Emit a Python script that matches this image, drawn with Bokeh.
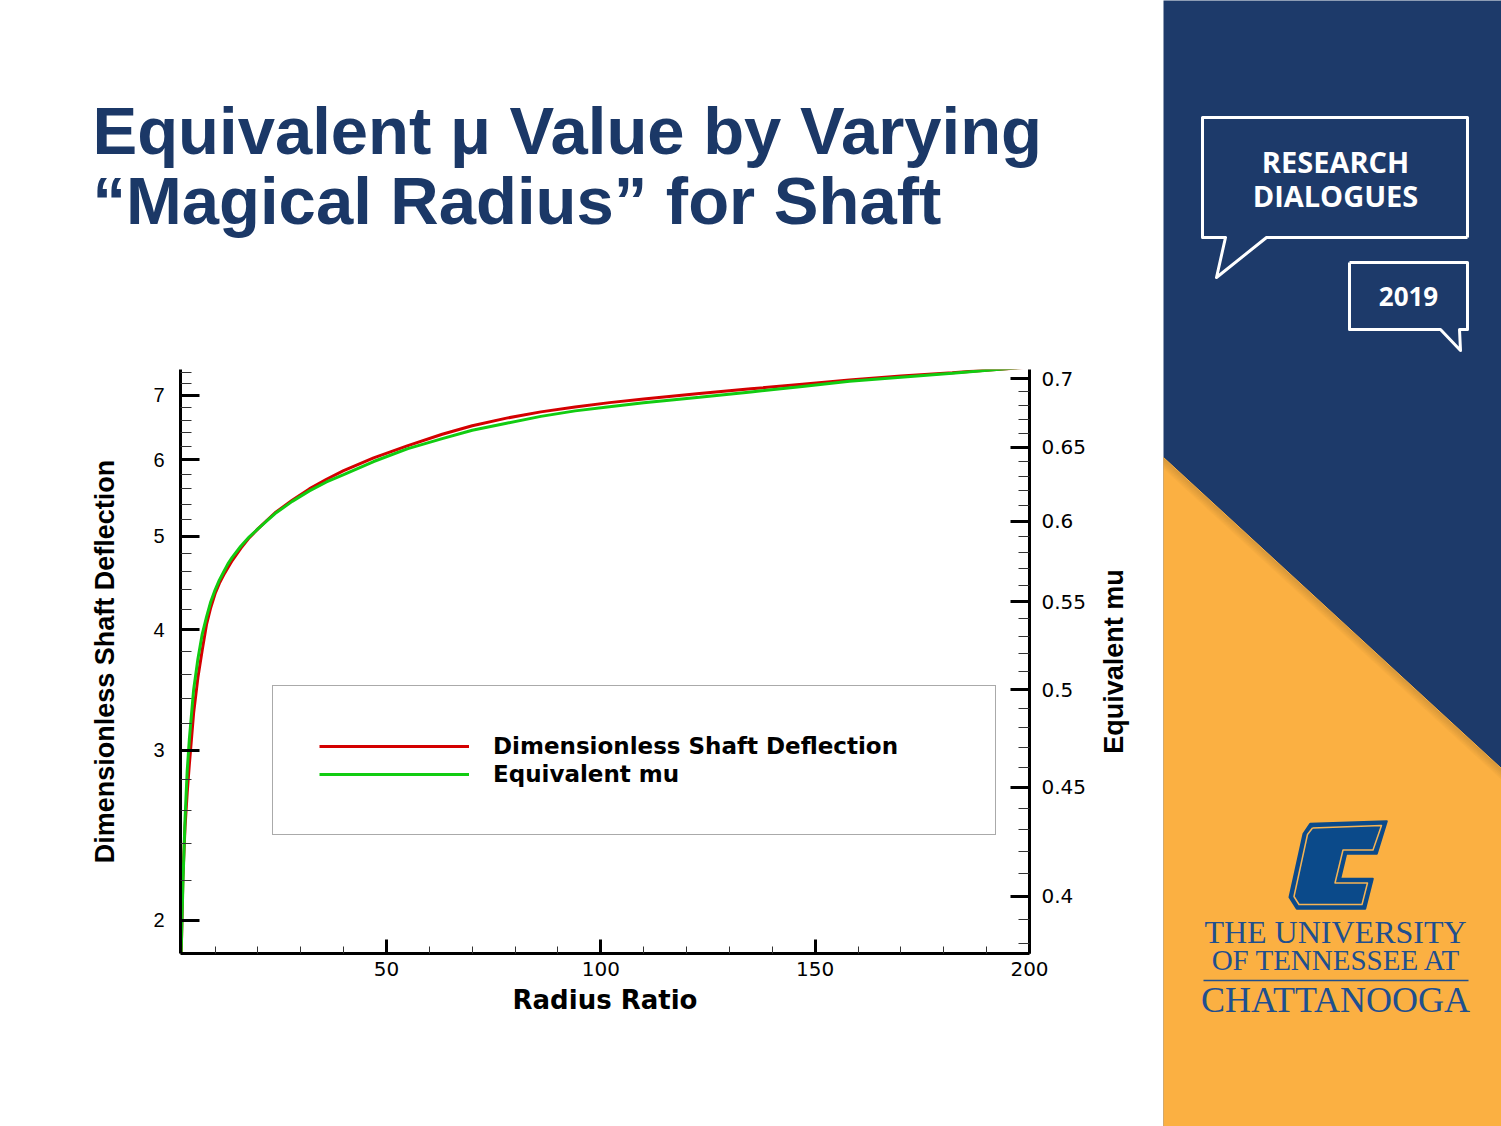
from math import pi
from bokeh.plotting import figure
from bokeh.models import (Range1d, LogScale, LogAxis, FixedTicker, Legend, LegendItem,
                          ColumnDataSource, BasicTickFormatter)
from bokeh.layouts import row, column
from bokeh.embed import file_html
from bokeh.resources import INLINE
from bokeh.core.properties import value

# ---------------- data ----------------
radius_ratio = [2, 2.5, 3, 3.5, 4, 5, 6, 7, 8, 9, 10, 11, 12, 13, 14, 16, 18, 20, 22, 24,
                28, 32, 36, 40, 47, 55, 63, 70, 78, 86, 94, 102, 110, 123, 135, 147, 158,
                170, 182, 193, 200]
deflection = [1.75, 2.22, 2.50, 2.71, 2.90, 3.28, 3.57, 3.81, 4.05, 4.22, 4.36, 4.47, 4.56,
              4.64, 4.72, 4.86, 4.985, 5.09, 5.19, 5.29, 5.45, 5.60, 5.73, 5.85, 6.03, 6.21,
              6.38, 6.51, 6.63, 6.73, 6.81, 6.88, 6.94, 7.03, 7.11, 7.19, 7.26, 7.33, 7.39,
              7.45, 7.49]
equiv_mu = [0.370, 0.405, 0.435, 0.458, 0.474, 0.500, 0.517, 0.531, 0.541, 0.550, 0.557,
            0.563, 0.568, 0.573, 0.577, 0.584, 0.590, 0.595, 0.600, 0.605, 0.613, 0.620,
            0.626, 0.631, 0.640, 0.649, 0.656, 0.662, 0.667, 0.672, 0.676, 0.679, 0.682,
            0.686, 0.690, 0.694, 0.698, 0.701, 0.704, 0.707, 0.709]

x_ticks = [50, 100, 150, 200]
x_minor = [10, 20, 30, 40, 60, 70, 80, 90, 110, 120, 130, 140, 160, 170, 180, 190]
left_ticks = [2, 3, 4, 5, 6, 7]
left_minor = [2.2, 2.4, 2.6, 2.8, 3.2, 3.4, 3.6, 3.8, 4.2, 4.4, 4.6, 4.8, 5.2, 5.4, 5.6, 5.8,
              6.2, 6.4, 6.6, 6.8, 7.2, 7.4]
right_ticks = [0.4, 0.45, 0.5, 0.55, 0.6, 0.65, 0.7]
right_tick_labels = ["0.4", "0.45", "0.5", "0.55", "0.6", "0.65", "0.7"]
right_minor = [0.38, 0.39, 0.41, 0.42, 0.43, 0.44, 0.46, 0.47, 0.48, 0.49, 0.51, 0.52, 0.53,
               0.54, 0.56, 0.57, 0.58, 0.59, 0.61, 0.62, 0.63, 0.64, 0.66, 0.67, 0.68, 0.69]

series_names = ["Dimensionless Shaft Deflection", "Equivalent mu"]
title_lines = ["Equivalent \u03bc Value by Varying", "\u201cMagical Radius\u201d for Shaft"]

NAVY = "#1d3a6a"
ORANGE = "#fbb042"
TITLE = "#1b3867"
RED = "#d40000"
GREEN = "#11cc11"


def no_align(fig):
    if "frame_align" in fig.properties():
        fig.frame_align = False


def bare(fig, bg):
    fig.xgrid.visible = False
    fig.ygrid.visible = False
    fig.outline_line_color = None
    fig.background_fill_color = bg
    fig.border_fill_color = bg


# ---------------- title strip ----------------
pt = figure(width=1163, height=340, x_range=Range1d(0, 1163), y_range=Range1d(340, 0),
            output_backend="svg", toolbar_location=None, min_border=0, title=None,
            x_axis_location=None, y_axis_location=None)
bare(pt, "white")
no_align(pt)
pt.text(x=[92, 92], y=[130, 200], text=title_lines, text_baseline="alphabetic",
        text_font=value("Liberation Sans"), text_font_style="bold",
        text_font_size=value("67px"), text_color=TITLE)

# ---------------- main chart figure ----------------
src = ColumnDataSource(dict(x=radius_ratio, d=deflection, m=equiv_mu))

p = figure(width=1095, height=786, x_range=Range1d(1.94, 200), y_range=Range1d(1.848, 7.446),
           y_axis_type="log", output_backend="svg", toolbar_location=None, title=None,
           min_border_left=180, min_border_right=66, min_border_top=29, min_border_bottom=173)
bare(p, "white")
no_align(p)

p.extra_y_ranges = {"mu": Range1d(0.3761, 0.7069)}
p.extra_y_scales = {"mu": LogScale()}


def style_axis(ax, tick_in, minor_in):
    ax.axis_line_width = 3
    ax.axis_line_color = "black"
    ax.major_tick_in = tick_in
    ax.major_tick_out = 0
    ax.major_tick_line_width = 3
    ax.major_tick_line_color = "black"
    ax.minor_tick_in = minor_in
    ax.minor_tick_out = 0
    ax.minor_tick_line_width = 1
    ax.minor_tick_line_color = "#333333"
    ax.major_label_text_color = "black"
    ax.major_label_text_font_style = "normal"
    ax.axis_label_text_color = "black"
    ax.axis_label_text_font_style = "bold"


xa = p.xaxis[0]
xa.ticker = FixedTicker(ticks=x_ticks, minor_ticks=x_minor)
style_axis(xa, 14, 7)
xa.major_label_text_font = "DejaVu Sans"
xa.major_label_text_font_size = "20px"
xa.major_label_standoff = 8
xa.axis_label = "Radius Ratio"
xa.axis_label_text_font = "DejaVu Sans"
xa.axis_label_text_font_size = "26px"
xa.axis_label_standoff = 6

ya = p.yaxis[0]
ya.ticker = FixedTicker(ticks=left_ticks, minor_ticks=left_minor)
ya.formatter = BasicTickFormatter()
style_axis(ya, 19, 11)
ya.major_label_text_font = "Liberation Sans"
ya.major_label_text_font_size = "20px"
ya.major_label_standoff = 16
ya.axis_label = series_names[0]
ya.axis_label_text_font = "Liberation Sans"
ya.axis_label_text_font_size = "27px"
ya.axis_label_standoff = 30

ra = LogAxis(y_range_name="mu", ticker=FixedTicker(ticks=right_ticks, minor_ticks=right_minor),
             formatter=BasicTickFormatter(),
             major_label_overrides=dict(zip(right_ticks, right_tick_labels)))
style_axis(ra, 19, 11)
ra.major_label_text_font = "DejaVu Sans"
ra.major_label_text_font_size = "20px"
ra.major_label_standoff = 12
p.add_layout(ra, "right")

r1 = p.line("x", "d", source=src, line_color=RED, line_width=3)
r2 = p.line("x", "m", source=src, y_range_name="mu", line_color=GREEN, line_width=3)

legend = Legend(items=[LegendItem(label=series_names[0], renderers=[r1]),
                       LegendItem(label=series_names[1], renderers=[r2])],
                location=(92, 118), padding=46, spacing=0, margin=0,
                glyph_width=150, glyph_height=28, label_height=28, label_width=456,
                label_standoff=24, label_text_font="DejaVu Sans", label_text_font_style="bold",
                label_text_font_size="23px", label_text_color="black",
                border_line_color="#555555", border_line_width=1.5,
                background_fill_color="white", background_fill_alpha=1)
p.add_layout(legend)

# ---------------- right-axis title strip (reads bottom-to-top) ----------------
pl = figure(width=68, height=786, x_range=Range1d(1095, 1163), y_range=Range1d(-1126, -340),
            output_backend="svg", toolbar_location=None, min_border=0, title=None,
            x_axis_location=None, y_axis_location=None)
bare(pl, "white")
no_align(pl)
pl.text(x=[1113], y=[-661], text=[series_names[1]], angle=pi / 2, text_align="center",
        text_baseline="middle", text_font=value("Liberation Sans"), text_font_style="bold",
        text_font_size=value("27px"), text_color="black")

# ---------------- right decorative panel ----------------
p2 = figure(width=338, height=1126, x_range=Range1d(1163, 1501), y_range=Range1d(1126, 0),
            output_backend="svg", toolbar_location=None, min_border=0, title=None,
            x_axis_location=None, y_axis_location=None)
bare(p2, NAVY)
no_align(p2)

p2.patch([1163, 1501, 1501, 1163], [457, 768, 1130, 1130], fill_color=ORANGE, line_color=ORANGE)
for k in range(1, 12):
    p2.line([1163, 1501], [457 + k, 768 + k], line_color="#7a5a2a", line_width=1,
            line_alpha=0.30 * (12 - k) / 12)

# speech bubbles
p2.line([1467, 1266, 1216, 1225, 1202, 1202, 1467, 1467],
        [237, 237, 277, 237, 237, 117, 117, 237],
        line_color="white", line_width=3, line_join="round")
p2.line([1349, 1467, 1467, 1459, 1460, 1440, 1349, 1349],
        [262, 262, 329, 329, 350, 329, 329, 262],
        line_color="white", line_width=3, line_join="round")
p2.text(x=[1335, 1335], y=[161, 195], text=["RESEARCH", "DIALOGUES"],
        text_align="center", text_baseline="middle", text_font=value("Open Sans"),
        text_font_style="bold", text_font_size=value("29px"), text_color="white")
p2.text(x=[1408], y=[296], text=["2019"],
        text_align="center", text_baseline="middle", text_font=value("Open Sans"),
        text_font_style="bold", text_font_size=value("26px"), text_color="white")

# UTC "C" logo
cx = [1309.7, 1386.3, 1376.3, 1345.7, 1339.7, 1372.3, 1364.7, 1296.3, 1289, 1303]
cy = [823.3, 820.7, 853.3, 853.3, 878.3, 878.3, 908.3, 908.3, 896.7, 833.3]
p2.patch(cx, cy, fill_color="#0b4a8a", line_color="#0b4a8a", line_width=2, line_join="round")
ix = [1312, 1381, 1372.5, 1342.5, 1334.5, 1367, 1361.5, 1298.5, 1293.5, 1307, 1312]
iy = [827.5, 825, 849.5, 849.5, 882.5, 882.5, 904, 904, 896, 834, 827.5]
p2.line(ix, iy, line_color="#f6b454", line_width=1.5, line_join="round")

UTC_BLUE = "#1f4f8f"
p2.text(x=[1335], y=[931], text=["THE UNIVERSITY"], text_align="center",
        text_baseline="alphabetic", text_font=value("Liberation Serif"),
        text_font_size=value("32px"), text_color=UTC_BLUE)
p2.text(x=[1336], y=[959], text=["OF TENNESSEE AT"], text_align="center",
        text_baseline="alphabetic", text_font=value("Liberation Serif"),
        text_font_size=value("29px"), text_color=UTC_BLUE)
p2.line([1203, 1468], [980, 980], line_color=UTC_BLUE, line_width=1.5)
p2.text(x=[1335], y=[999], text=["CHATTANOOGA"], text_align="center",
        text_baseline="alphabetic", text_font=value("Liberation Serif"),
        text_font_size=value("36px"), text_color=UTC_BLUE)

layout = row(column(pt, row(p, pl)), p2)
open("out.html", "w").write(file_html(layout, INLINE))
